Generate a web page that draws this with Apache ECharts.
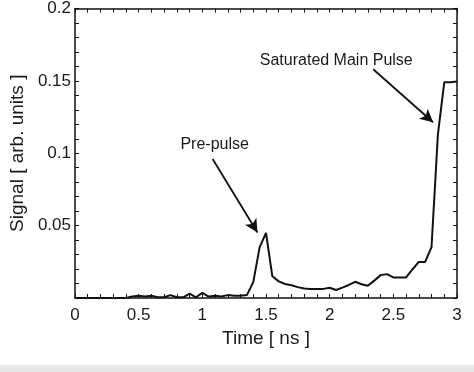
<!DOCTYPE html>
<html>
<head>
<meta charset="utf-8">
<script src="https://cdn.jsdelivr.net/npm/echarts@6/dist/echarts.min.js"></script>
<style>
html,body{margin:0;padding:0;background:#fff;}
#c{width:474px;height:372px;}
</style>
</head>
<body>
<div id="c"></div>
<script>
// Time axis samples [ns]
var times = [0,0.05,0.1,0.15,0.2,0.25,0.3,0.35,0.4,0.45,0.5,0.55,0.6,0.65,0.7,0.75,0.8,0.85,0.9,0.95,
  1.0,1.05,1.1,1.15,1.2,1.25,1.3,1.35,1.4,1.45,1.5,1.55,1.6,1.65,1.7,1.75,1.8,1.85,1.9,1.95,
  2.0,2.05,2.1,2.15,2.2,2.25,2.3,2.35,2.4,2.45,2.5,2.55,2.6,2.65,2.7,2.75,2.8,2.85,2.9,2.95,3.0];
// Signal [arb. units]
var signal = [0,0,0,0,0,0,0,0,0,0.001,0.0015,0.001,0.0015,0.0005,0.0005,0.002,0.0005,0.0005,0.003,0.0005,
  0.0035,0.001,0.0015,0.001,0.002,0.0015,0.0015,0.002,0.011,0.035,0.045,0.015,0.0115,0.0097,0.0088,0.0075,0.0065,0.0063,0.0063,0.0063,
  0.0071,0.0055,0.0072,0.009,0.0112,0.0095,0.0085,0.012,0.0158,0.0165,0.0142,0.0142,0.0142,0.0197,0.0249,0.0249,0.0352,0.113,0.149,0.149,0.1495];
var xTicks = [0,0.5,1,1.5,2,2.5,3];
var yTicks = [0.05,0.1,0.15,0.2];
// Annotations
var preLabel = {text:'Pre-pulse', at:[1.097,0.1057], from:[1.081,0.096], to:[1.433,0.0453]};
var mainLabel = {text:'Saturated Main Pulse', at:[2.052,0.164], from:[2.342,0.158], to:[2.812,0.1214]};

var FONT = '"Liberation Sans", Arial, Helvetica, sans-serif';
var data = times.map(function(t,i){return [t, signal[i]];});
var tickStyle = {show:true, inside:true, length:4, lineStyle:{color:'#111', width:1}};
var minorStyle = {show:true, splitNumber:5, length:4, lineStyle:{color:'#111', width:1}};
var lineAxis = {show:true, onZero:false, lineStyle:{color:'#111', width:1.5}};

var chart = echarts.init(document.getElementById('c'), null, {renderer:'canvas'});
chart.setOption({
  animation:false,
  backgroundColor:'#fff',
  grid:{left:74, right:17, top:6, bottom:74, containLabel:false},
  xAxis:[{
    type:'value', min:0, max:3, interval:0.5, position:'bottom',
    name:'Time [ ns ]', nameLocation:'middle', nameGap:31,
    nameTextStyle:{fontFamily:FONT, fontSize:19, color:'#1a1a1a'},
    axisLine:lineAxis, axisTick:tickStyle, minorTick:minorStyle,
    splitLine:{show:false},
    axisLabel:{fontFamily:FONT, fontSize:17, color:'#1a1a1a', margin:9,
      formatter:function(v){return xTicks.indexOf(+v.toFixed(2))>=0 ? String(+v.toFixed(2)) : '';}}
  },{
    type:'value', min:0, max:3, interval:0.5, position:'top',
    axisLine:lineAxis, axisTick:tickStyle, minorTick:minorStyle,
    splitLine:{show:false}, axisLabel:{show:false}
  }],
  yAxis:[{
    type:'value', min:0, max:0.2, interval:0.05, position:'left',
    name:'Signal [ arb. units ]', nameLocation:'middle', nameGap:44,
    nameTextStyle:{fontFamily:FONT, fontSize:19, color:'#1a1a1a'},
    axisLine:lineAxis, axisTick:tickStyle, minorTick:minorStyle,
    splitLine:{show:false},
    axisLabel:{fontFamily:FONT, fontSize:17, color:'#1a1a1a', margin:4,
      formatter:function(v){var r=+v.toFixed(3); return yTicks.indexOf(r)>=0 ? String(r) : '';}}
  },{
    type:'value', min:0, max:0.2, interval:0.05, position:'right',
    axisLine:lineAxis, axisTick:tickStyle, minorTick:minorStyle,
    splitLine:{show:false}, axisLabel:{show:false}
  }],
  series:[{
    type:'line', data:data, xAxisIndex:0, yAxisIndex:0,
    showSymbol:false, symbol:'none',
    lineStyle:{color:'#111', width:2},
    markLine:{
      silent:true, animation:false,
      symbol:['none','arrow'], symbolSize:[10,13],
      lineStyle:{color:'#111', width:1.8, type:'solid'},
      label:{show:false},
      data:[
        [{coord:preLabel.from},{coord:preLabel.to}],
        [{coord:mainLabel.from},{coord:mainLabel.to}]
      ]
    },
    markPoint:{
      silent:true, animation:false,
      symbol:'circle', symbolSize:1,
      itemStyle:{color:'rgba(0,0,0,0)'},
      label:{show:true, position:'inside', fontFamily:FONT, fontSize:16, color:'#1a1a1a'},
      data:[
        {coord:preLabel.at, label:{formatter:preLabel.text}},
        {coord:mainLabel.at, label:{formatter:mainLabel.text}}
      ]
    }
  }],
  graphic:[{type:'rect', left:0, top:365, shape:{width:474, height:7}, style:{fill:'#e8e8e8'}, silent:true}]
});
</script>
</body>
</html>
